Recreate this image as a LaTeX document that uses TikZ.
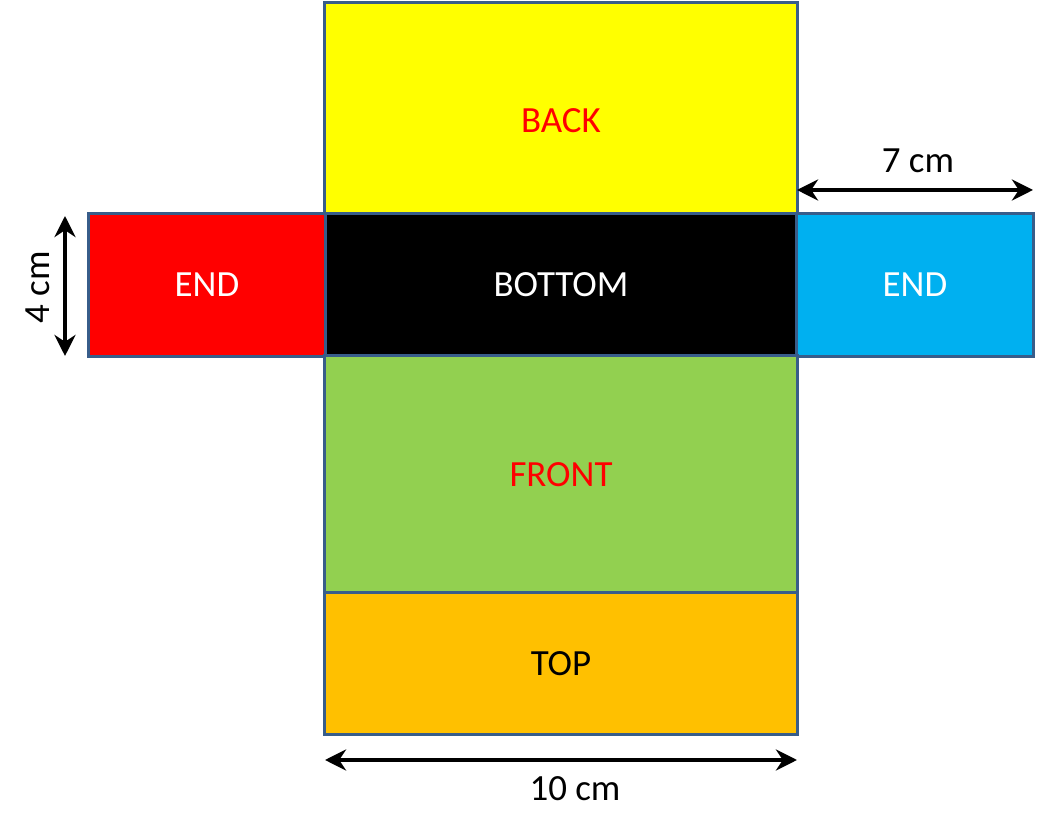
\documentclass[tikz,border=0pt]{standalone}
\usepackage{fontspec}
\setmainfont{Carlito}
\usetikzlibrary{positioning, arrows.meta, calc}
\definecolor{edgeblue}{HTML}{385D8A}
\definecolor{backyellow}{HTML}{FFFF00}
\definecolor{frontgreen}{HTML}{92D050}
\definecolor{toporange}{HTML}{FFC000}
\definecolor{endblue}{HTML}{00B0F0}

\begin{document}
\begin{tikzpicture}[
        x=0.01cm, y=-0.01cm,
        face/.style={rectangle, draw=edgeblue, line width=0.85pt, inner sep=0pt, font=\fontsize{10.5}{12}\selectfont},
        dim/.style={{Stealth[length=6pt,width=6pt]}-{Stealth[length=6pt,width=6pt]}, line width=1pt},
        dimlabel/.style={font=\fontsize{10.5}{12}\selectfont}
    ]
    \useasboundingbox (0,0) rectangle (1057,819);

    % Net of the box
    \node[face, fill=backyellow, minimum width=4.72cm, minimum height=2.11cm] (back) at (561,108.5) {};
    \node[text=red, font=\fontsize{10.5}{12}\selectfont] (backlabel) at (561,121) {BACK};
    \node[face, fill=black, text=white, minimum width=4.72cm, minimum height=1.42cm] (bottom) at (561,285) {BOTTOM};
    \node[face, fill=red, text=white, minimum width=2.36cm, minimum height=1.42cm] (endl) at (207,285) {END};
    \node[face, fill=endblue, text=white, minimum width=2.36cm, minimum height=1.42cm] (endr) at (915,285) {END};
    \node[face, fill=frontgreen, text=red, minimum width=4.72cm, minimum height=2.37cm] (front) at (561,474.5) {FRONT};
    \node[face, fill=toporange, minimum width=4.72cm, minimum height=1.41cm] (top) at (561,663.5) {TOP};

    % Dimensions
    \coordinate (w1) at (325,760);
    \coordinate (w2) at (797,760);
    \draw[dim] (w1) -- (w2);
    \node[dimlabel] (wl) at (575,789) {10 cm};

    \coordinate (d1) at (797,190);
    \coordinate (d2) at (1033,190);
    \draw[dim] (d1) -- (d2);
    \node[dimlabel] (dl) at (918,161) {7 cm};

    \coordinate (h1) at (65,216);
    \coordinate (h2) at (65,356);
    \draw[dim] (h1) -- (h2);
    \node[dimlabel, rotate=90] (hl) at (38,287) {4 cm};
\end{tikzpicture}
\end{document}
